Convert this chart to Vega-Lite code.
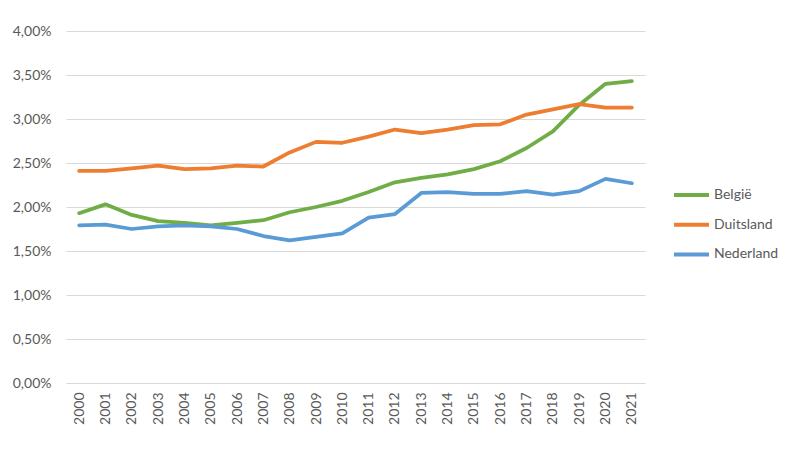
{
  "$schema": "https://vega.github.io/schema/vega-lite/v6.json",
  "autosize": {"type": "none"},
  "padding": {"left": 66, "top": 31, "right": 155, "bottom": 67},
  "width": 579,
  "height": 352,
  "background": "white",
  "data": {
    "values": [
      {"year": "2000", "country": "België", "value": 0.0193},
      {"year": "2001", "country": "België", "value": 0.0203},
      {"year": "2002", "country": "België", "value": 0.0191},
      {"year": "2003", "country": "België", "value": 0.0184},
      {"year": "2004", "country": "België", "value": 0.0182},
      {"year": "2005", "country": "België", "value": 0.0179},
      {"year": "2006", "country": "België", "value": 0.0182},
      {"year": "2007", "country": "België", "value": 0.0185},
      {"year": "2008", "country": "België", "value": 0.0194},
      {"year": "2009", "country": "België", "value": 0.0200},
      {"year": "2010", "country": "België", "value": 0.0207},
      {"year": "2011", "country": "België", "value": 0.0217},
      {"year": "2012", "country": "België", "value": 0.0228},
      {"year": "2013", "country": "België", "value": 0.0233},
      {"year": "2014", "country": "België", "value": 0.0237},
      {"year": "2015", "country": "België", "value": 0.0243},
      {"year": "2016", "country": "België", "value": 0.0252},
      {"year": "2017", "country": "België", "value": 0.0267},
      {"year": "2018", "country": "België", "value": 0.0286},
      {"year": "2019", "country": "België", "value": 0.0316},
      {"year": "2020", "country": "België", "value": 0.0340},
      {"year": "2021", "country": "België", "value": 0.0343},
      {"year": "2000", "country": "Duitsland", "value": 0.0241},
      {"year": "2001", "country": "Duitsland", "value": 0.0241},
      {"year": "2002", "country": "Duitsland", "value": 0.0244},
      {"year": "2003", "country": "Duitsland", "value": 0.0247},
      {"year": "2004", "country": "Duitsland", "value": 0.0243},
      {"year": "2005", "country": "Duitsland", "value": 0.0244},
      {"year": "2006", "country": "Duitsland", "value": 0.0247},
      {"year": "2007", "country": "Duitsland", "value": 0.0246},
      {"year": "2008", "country": "Duitsland", "value": 0.0262},
      {"year": "2009", "country": "Duitsland", "value": 0.0274},
      {"year": "2010", "country": "Duitsland", "value": 0.0273},
      {"year": "2011", "country": "Duitsland", "value": 0.0280},
      {"year": "2012", "country": "Duitsland", "value": 0.0288},
      {"year": "2013", "country": "Duitsland", "value": 0.0284},
      {"year": "2014", "country": "Duitsland", "value": 0.0288},
      {"year": "2015", "country": "Duitsland", "value": 0.0293},
      {"year": "2016", "country": "Duitsland", "value": 0.0294},
      {"year": "2017", "country": "Duitsland", "value": 0.0305},
      {"year": "2018", "country": "Duitsland", "value": 0.0311},
      {"year": "2019", "country": "Duitsland", "value": 0.0317},
      {"year": "2020", "country": "Duitsland", "value": 0.0313},
      {"year": "2021", "country": "Duitsland", "value": 0.0313},
      {"year": "2000", "country": "Nederland", "value": 0.0179},
      {"year": "2001", "country": "Nederland", "value": 0.0180},
      {"year": "2002", "country": "Nederland", "value": 0.0175},
      {"year": "2003", "country": "Nederland", "value": 0.0178},
      {"year": "2004", "country": "Nederland", "value": 0.0179},
      {"year": "2005", "country": "Nederland", "value": 0.0178},
      {"year": "2006", "country": "Nederland", "value": 0.0175},
      {"year": "2007", "country": "Nederland", "value": 0.0167},
      {"year": "2008", "country": "Nederland", "value": 0.0162},
      {"year": "2009", "country": "Nederland", "value": 0.0166},
      {"year": "2010", "country": "Nederland", "value": 0.0170},
      {"year": "2011", "country": "Nederland", "value": 0.0188},
      {"year": "2012", "country": "Nederland", "value": 0.0192},
      {"year": "2013", "country": "Nederland", "value": 0.0216},
      {"year": "2014", "country": "Nederland", "value": 0.0217},
      {"year": "2015", "country": "Nederland", "value": 0.0215},
      {"year": "2016", "country": "Nederland", "value": 0.0215},
      {"year": "2017", "country": "Nederland", "value": 0.0218},
      {"year": "2018", "country": "Nederland", "value": 0.0214},
      {"year": "2019", "country": "Nederland", "value": 0.0218},
      {"year": "2020", "country": "Nederland", "value": 0.0232},
      {"year": "2021", "country": "Nederland", "value": 0.0227}
    ]
  },
  "mark": {"type": "line", "strokeWidth": 3.75, "strokeJoin": "round", "strokeCap": "round"},
  "encoding": {
    "x": {
      "field": "year",
      "type": "ordinal",
      "scale": {"type": "point", "padding": 0.5},
      "axis": {
        "title": null,
        "labelAngle": -90,
        "labelPadding": 9,
        "ticks": false,
        "tickSize": 0,
        "domainColor": "#D9D9D9",
        "domainWidth": 1,
        "grid": false
      }
    },
    "y": {
      "field": "value",
      "type": "quantitative",
      "scale": {"domain": [0, 0.04], "nice": false},
      "axis": {
        "title": null,
        "values": [0, 0.005, 0.01, 0.015, 0.02, 0.025, 0.03, 0.035, 0.04],
        "labelExpr": "replace(format(datum.value, '.2%'), '.', ',')",
        "grid": true,
        "gridColor": "#D9D9D9",
        "domain": false,
        "ticks": false,
        "tickSize": 0,
        "labelPadding": 15
      }
    },
    "color": {
      "field": "country",
      "type": "nominal",
      "scale": {"domain": ["België", "Duitsland", "Nederland"], "range": ["#70AD47", "#ED7D31", "#5B9BD5"]},
      "legend": {
        "title": null,
        "orient": "none",
        "legendX": 606,
        "legendY": 156,
        "symbolType": "stroke",
        "symbolSize": 1225,
        "symbolStrokeWidth": 4,
        "clipHeight": 16,
        "rowPadding": 13.7,
        "labelOffset": 3,
        "labelFontWeight": "normal"
      }
    }
  },
  "config": {
    "font": "Lato",
    "view": {"stroke": null},
    "axis": {"labelFont": "Lato", "labelFontSize": 14, "labelColor": "#595959", "labelFontWeight": "normal"},
    "legend": {"labelFont": "Lato", "labelFontSize": 14, "labelColor": "#595959", "labelFontWeight": "normal"}
  }
}
